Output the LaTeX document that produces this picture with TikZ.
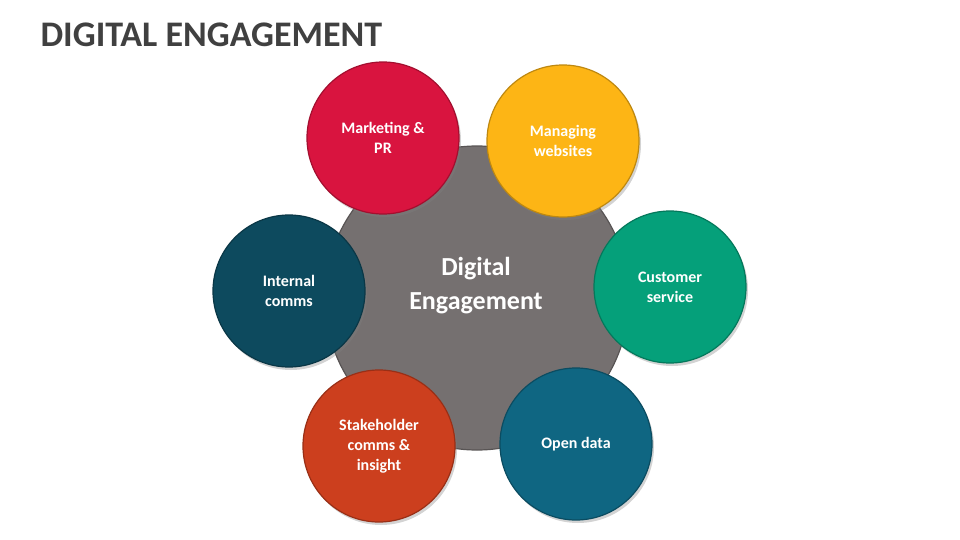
\documentclass[tikz,border=0pt]{standalone}
\usepackage{fontspec}
\setmainfont{Carlito}
\usetikzlibrary{shadows}
\definecolor{cred}{HTML}{D9143F}
\definecolor{cyel}{HTML}{FDB515}
\definecolor{cgrn}{HTML}{05A07A}
\definecolor{cdk}{HTML}{0D4A5E}
\definecolor{cblu}{HTML}{0F6682}
\definecolor{corg}{HTML}{CC3F1E}
\definecolor{cgry}{HTML}{757070}
\definecolor{ctitle}{HTML}{404040}
\begin{document}
\begin{tikzpicture}[x=1pt,y=-1pt,
  sat/.style={circle,minimum size=152pt,inner sep=0pt,fill=#1,draw=#1!75!black,line width=1.2pt,
    drop shadow={shadow xshift=2pt,shadow yshift=-3pt,opacity=0.35},
    text=white,font=\bfseries\fontsize{16}{20}\selectfont,align=center}]
\useasboundingbox (0,0) rectangle (960,540);
\node[anchor=west,text=ctitle,font=\bfseries\fontsize{36}{38}\selectfont] (title) at (37,35) {DIGITAL ENGAGEMENT};
\node[circle,minimum size=304pt,inner sep=0pt,fill=cgry,draw=cgry!75!black,line width=1.2pt] (hub) at (477,298) {};
\node[text=white,font=\bfseries\fontsize{26}{34}\selectfont,align=center] (hubt) at (476,286) {Digital\\Engagement};
\node[sat=cred] (m) at (383,138) {Marketing \&\\PR};
\node[sat=cyel] (w) at (563,141) {Managing\\websites};
\node[sat=cgrn] (c) at (670,287) {Customer\\service};
\node[sat=cblu] (o) at (576,444) {Open data};
\node[sat=corg] (s) at (379,446) {Stakeholder\\comms \&\\insight};
\node[sat=cdk] (i) at (289,291) {Internal\\comms};
\end{tikzpicture}
\end{document}
